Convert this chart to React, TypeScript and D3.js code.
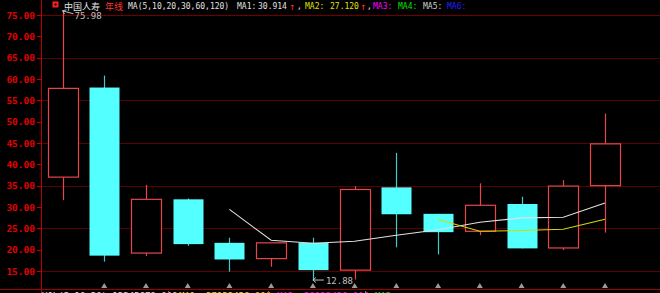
import React from 'react';
import * as d3 from 'd3';

const W = 660;
const H = 293;

const years = ['2007', '2008', '2009', '2010', '2011', '2012', '2013', '2014', '2015', '2016', '2017', '2018', '2019', '2020'];
const opens = [37.0, 58.0, 19.2, 31.8, 21.6, 17.9, 21.6, 15.2, 34.6, 28.4, 24.3, 30.7, 20.4, 35.0];
const closes = [57.8, 18.6, 31.8, 21.3, 17.7, 21.6, 15.2, 34.1, 28.3, 24.1, 30.4, 20.3, 34.9, 44.8];
const highs = [75.98, 60.8, 35.2, 32.0, 22.8, 21.6, 22.8, 34.9, 42.7, 28.4, 35.55, 32.4, 36.3, 51.9];
const lows = [31.6, 17.2, 18.5, 20.9, 14.85, 16.0, 12.88, 13.0, 20.55, 18.9, 23.4, 20.3, 19.9, 24.0];
const ma5 = [null, null, null, null, 29.44, 22.2, 21.52, 21.98, 23.38, 24.66, 26.42, 27.44, 27.6, 30.914];
const ma10 = [null, null, null, null, null, null, null, null, null, 27.05, 24.31, 24.48, 24.79, 27.12];
const yTicks = [75, 70, 65, 60, 55, 50, 45, 40, 35, 30, 25, 20, 15];
const gridTicks = [75, 65, 55, 45, 35, 25, 15];

const RED = '#e8464a';
const CYAN = '#54ffff';
const CYAN_WICK = '#3ccccc';
const GRID = '#5a0000';
const AXIS = '#c00000';
const MONO = '"DejaVu Sans Mono", "Liberation Mono", monospace';

export default function App() {
  const x = d3.scalePoint<number>().domain(d3.range(years.length)).range([62.5, 605]);
  const y = d3.scaleLinear().domain([15, 75]).range([271, 15]);
  const bw = 30;

  const line = d3
    .line<[number, number | null]>()
    .defined((d) => d[1] !== null)
    .x((d) => x(d[0]) as number)
    .y((d) => y(d[1] as number));

  const ma5Path = line(ma5.map((v, i) => [i, v]));
  const ma10Path = line(ma10.map((v, i) => [i, v]));

  const hiIdx = d3.maxIndex(highs);
  const loIdx = d3.minIndex(lows);
  const hx = x(hiIdx) as number;
  const hy = y(highs[hiIdx]);
  const lx = x(loIdx) as number;
  const ly = y(lows[loIdx]);

  return (
    <svg
      width={W}
      height={H}
      style={{ position: 'fixed', left: 0, top: 0, background: '#000', display: 'block' }}
    >
      <rect x={0} y={0} width={W} height={H} fill="#000" />
      {/* grid */}
      {gridTicks.map((t) => (
        <line key={'g' + t} x1={41} x2={W} y1={Math.round(y(t)) + 0.5} y2={Math.round(y(t)) + 0.5} stroke={t === 75 ? '#700000' : GRID} strokeWidth={1} />
      ))}
      {/* bottom separator */}
      <line x1={0} x2={W} y1={289.5} y2={289.5} stroke="#a00000" strokeWidth={1.2} />
      {/* axis */}
      <line x1={41.5} x2={41.5} y1={0} y2={H} stroke={AXIS} strokeWidth={1} />
      {yTicks.map((t) => (
        <g key={'t' + t}>
          <line x1={37} x2={41} y1={Math.round(y(t)) + 0.5} y2={Math.round(y(t)) + 0.5} stroke={AXIS} />
          <text x={35} y={y(t) + 3.5} textAnchor="end" fill="#e00000" fontFamily={MONO} fontWeight="bold" fontSize={9.5}>
            {t.toFixed(2)}
          </text>
        </g>
      ))}

      {/* candles */}
      {years.map((yr, i) => {
        const cx = Math.round(x(i) as number) + 0.5;
        const up = closes[i] >= opens[i];
        const top = y(Math.max(opens[i], closes[i]));
        const bot = y(Math.min(opens[i], closes[i]));
        if (up) {
          return (
            <g key={yr}>
              <line x1={cx} x2={cx} y1={y(highs[i])} y2={top} stroke={RED} strokeWidth={1.2} />
              <line x1={cx} x2={cx} y1={bot} y2={y(lows[i])} stroke={RED} strokeWidth={1.2} />
              <rect x={cx - bw / 2} y={top} width={bw} height={Math.max(1, bot - top)} fill="#000" stroke={RED} strokeWidth={1.2} />
            </g>
          );
        }
        return (
          <g key={yr}>
            <line x1={cx} x2={cx} y1={y(highs[i])} y2={y(lows[i])} stroke={CYAN_WICK} strokeWidth={1.2} />
            <rect x={cx - bw / 2} y={top} width={bw} height={Math.max(1, bot - top)} fill={CYAN} />
          </g>
        );
      })}

      {/* MA lines */}
      <path d={ma5Path || ''} fill="none" stroke="#e0e0e0" strokeWidth={1.1} />
      <path d={ma10Path || ''} fill="none" stroke="#d8d800" strokeWidth={1.1} />

      {/* high label */}
      <g stroke="#c0c0c0">
        <line x1={hx} y1={hy} x2={hx + 11} y2={hy + 3} />
        <line x1={hx} y1={hy} x2={hx + 4} y2={hy - 1} />
        <line x1={hx} y1={hy} x2={hx + 2} y2={hy + 3} />
      </g>
      <text x={hx + 12} y={hy + 8.5} fill="#c0c0c0" fontFamily={MONO} fontSize={9}>
        {highs[hiIdx].toFixed(2)}
      </text>
      {/* low label */}
      <g stroke="#c0c0c0">
        <line x1={lx} y1={ly} x2={lx + 11} y2={ly} />
        <line x1={lx} y1={ly} x2={lx + 3} y2={ly - 2.5} />
        <line x1={lx} y1={ly} x2={lx + 3} y2={ly + 2.5} />
      </g>
      <text x={lx + 13} y={ly + 3.5} fill="#c0c0c0" fontFamily={MONO} fontSize={9}>
        {lows[loIdx].toFixed(2)}
      </text>

      {/* triangles */}
      {years.slice(1).map((yr, j) => {
        const cx = x(j + 1) as number;
        return <path key={'tri' + yr} d={`M${cx - 3},288 L${cx + 3},288 L${cx},283 Z`} fill="#9a9a9a" />;
      })}

      {/* header */}
      <rect x={52.5} y={1.5} width={6} height={6} fill="#ff2020" />
      <rect x={54.5} y={3.5} width={2} height={2} fill="#000" />
      <text x={64} y={9.5} fill="#e0e0e0" fontFamily='"Noto Sans CJK SC", sans-serif' fontSize={9}>中国人寿</text>
      <text x={105} y={9.5} fill="#ff3030" fontFamily='"Noto Sans CJK SC", sans-serif' fontSize={9}>年线</text>
      <g fontFamily={MONO} fontSize={8}>
        <text x={128} y={9} fill="#e0e0e0">MA(5,10,20,30,60,120)</text>
        <text x={237} y={9} fill="#e0e0e0">MA1:</text>
        <text x={258} y={9} fill="#e0e0e0">{ma5[13]?.toFixed(3)}</text>
        <text x={289} y={9.5} fill="#ff3030" fontSize={10}>↑</text>
        <text x={297} y={9} fill="#e0e0e0">,</text>
        <text x={305} y={9} fill="#e0e000">MA2:</text>
        <text x={330} y={9} fill="#e0e000">{ma10[13]?.toFixed(3)}</text>
        <text x={360} y={9.5} fill="#ff3030" fontSize={10}>↑</text>
        <text x={367} y={9} fill="#e0e0e0">,</text>
        <text x={373} y={9} fill="#ff00ff">MA3:</text>
        <text x={398} y={9} fill="#00e000">MA4:</text>
        <text x={423} y={9} fill="#d0d0d0">MA5:</text>
        <text x={447} y={9} fill="#2020ff">MA6:</text>
      </g>

      {/* cut-off lower panel header */}
      <g fontFamily={MONO} fontSize={9}>
        <text x={42} y={299} fill="#e0e0e0">VOL(5,10,20) 12345678.000</text>
        <line x1={168.5} x2={168.5} y1={291} y2={H} stroke="#ff3030" />
        <text x={179} y={299} fill="#e0e000">MA1: 27123456.000</text>
        <line x1={268.5} x2={268.5} y1={291} y2={H} stroke="#ff3030" />
        <text x={277} y={299} fill="#ff00ff">MA2: 28123456.000</text>
        <line x1={365.5} x2={365.5} y1={291} y2={H} stroke="#00e000" />
        <text x={375} y={299} fill="#00e000">MA3:</text>
      </g>
    </svg>
  );
}
